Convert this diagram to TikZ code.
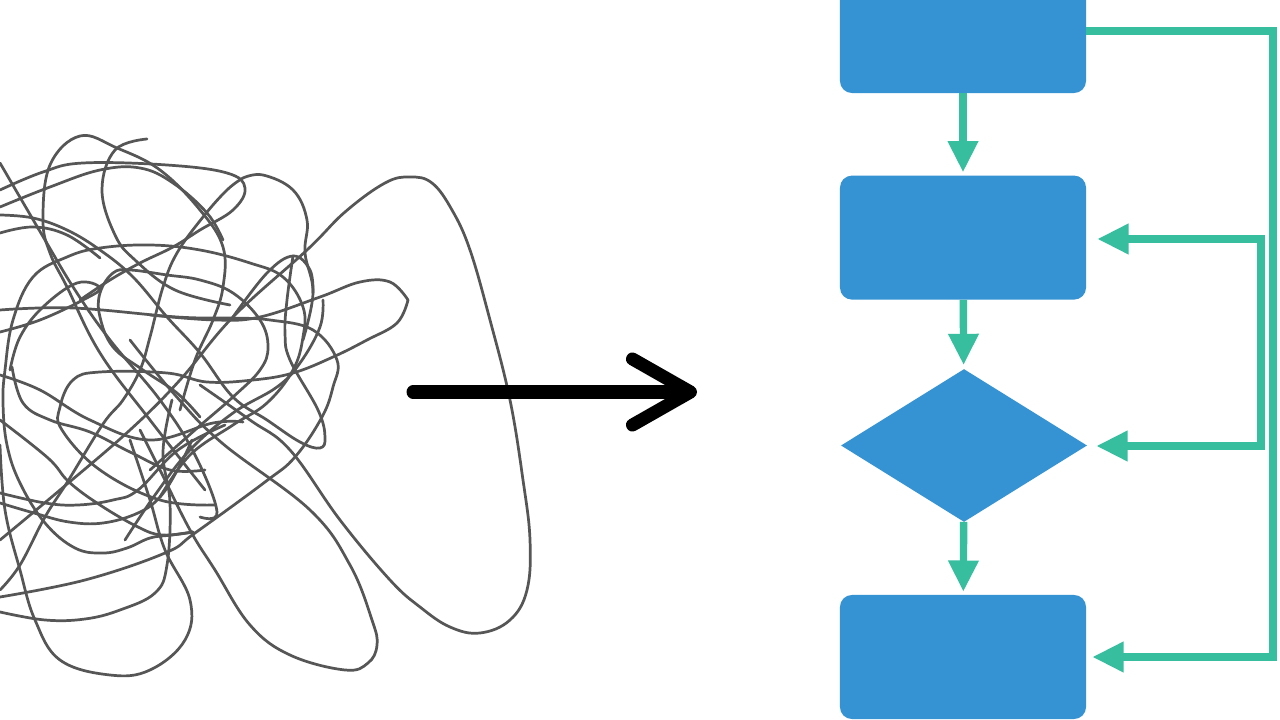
\documentclass[tikz,border=0pt]{standalone}
\usepackage{tikz}
\usetikzlibrary{shapes.geometric, arrows.meta, positioning}
\definecolor{boxblue}{HTML}{3593D3}
\definecolor{flowgreen}{HTML}{37BE9F}
\definecolor{scribblegray}{HTML}{565656}
\tikzset{
    box/.style={draw=none, fill=boxblue, rounded corners=0.3cm, minimum width=6.15cm, minimum height=3.1cm, inner sep=0pt},
    decision/.style={draw=none, fill=boxblue, diamond, minimum width=6.15cm, minimum height=3.82cm, inner sep=0pt},
    flow/.style={draw=flowgreen, line width=0.185cm, -{Triangle[length=0.78cm, width=0.72cm]}},
    scribble/.style={draw=scribblegray, line width=0.068cm, line cap=round, line join=round},
}
\begin{document}
\begin{tikzpicture}[x=0.025cm, y=-0.025cm]
    \clip (0,0) rectangle (1280,720);
    \fill[white] (0,0) rectangle (1280,720);

    % the tangle
    \draw[scribble] plot[smooth, tension=0.65] coordinates {(0,597) (85,580) (165,553) (195,533) (265,482) (295,457) (322,417) (333,387) (337,360) (313,330) (270,320) (230,318) (177,317) (73,308) (0,310)};
    \draw[scribble] plot[smooth, tension=0.65] coordinates {(0,540) (60,490) (130,430) (180,380) (233,317) (307,250) (345,212) (385,183) (410,177) (432,183) (452,210) (470,250) (490,320) (510,400) (523,480) (530,540) (527,590) (510,620) (480,633) (450,627) (420,607) (390,580) (340,520) (290,450) (250,420) (200,385)};
    \draw[scribble] plot[smooth, tension=0.65] coordinates {(130,340) (175,395) (222,443) (310,510) (350,565) (372,620) (377,645) (368,663) (345,670) (290,655) (250,625) (215,570) (190,530) (160,470) (140,430)};
    \draw[scribble] plot[smooth, tension=0.65] coordinates {(0,445) (5,510) (20,570) (35,620) (60,660) (110,675) (150,670) (185,640) (190,600) (165,550) (150,500) (130,440)};
    \draw[scribble] plot[smooth, tension=0.65] coordinates {(0,612) (45,620) (85,619) (120,610) (155,593) (167,565) (170,503) (163,452) (172,400)};
    \draw[scribble] plot[smooth, tension=0.65] coordinates {(147,139) (115,150) (102,190) (115,235) (135,260) (175,290) (230,305)};
    \draw[scribble] plot[smooth, tension=0.65] coordinates {(0,163) (45,240) (75,290) (110,340) (160,400) (195,455) (217,512) (200,517)};
    \draw[scribble] plot[smooth, tension=0.65] coordinates {(205,490) (150,420) (100,353) (67,287) (50,253) (43,220) (50,165) (80,136) (117,148) (160,170) (200,210) (223,247) (223,287) (213,320) (195,360) (180,410)};
    \draw[scribble] plot[smooth, tension=0.65] coordinates {(0,190) (43,172) (83,163) (167,165) (227,173) (245,188) (233,210) (200,230) (173,247) (140,263) (110,280) (80,300)};
    \draw[scribble] plot[smooth, tension=0.65] coordinates {(0,207) (50,187) (100,170) (140,168) (173,183) (207,213) (223,240)};
    \draw[scribble] plot[smooth, tension=0.65] coordinates {(243,178) (263,175) (293,190) (307,220) (305,253) (313,293) (303,340)};
    \draw[scribble] plot[smooth, tension=0.65] coordinates {(243,178) (227,190) (203,217) (177,253) (163,287) (150,337) (140,370) (123,400) (103,424) (68,481) (45,517) (20,565) (0,590)};
    \draw[scribble] plot[smooth, tension=0.65] coordinates {(0,215) (33,218) (67,230) (100,250) (133,277) (167,317) (200,353) (233,397) (267,420) (300,442) (320,448) (325,437) (318,410) (290,360) (285,333) (287,300) (293,256)};
    \draw[scribble] plot[smooth, tension=0.65] coordinates {(408,300) (390,282) (360,282) (320,297) (260,317) (215,320) (150,315)};
    \draw[scribble] plot[smooth, tension=0.65] coordinates {(408,300) (397,323) (367,340) (333,357) (293,373) (253,380) (207,382) (167,373) (100,372) (73,380) (60,407) (62,430) (100,470) (160,500) (215,505)};
    \draw[scribble] plot[smooth, tension=0.65] coordinates {(0,233) (33,227) (67,235) (100,258)};
    \draw[scribble] plot[smooth, tension=0.65] coordinates {(193,532) (172,535) (150,538) (127,548) (103,553) (75,548) (45,523) (20,483) (7,445) (3,403) (5,370) (13,320) (33,277) (67,257) (100,248) (150,245) (200,250) (250,263) (283,277) (303,307) (303,337) (293,370) (267,403) (233,425) (190,455) (160,497)};
    \draw[scribble] plot[smooth, tension=0.65] coordinates {(10,370) (20,337) (43,307) (77,283) (100,288) (83,300) (40,320) (0,332)};
    \draw[scribble] plot[smooth, tension=0.65] coordinates {(12,367) (23,403) (50,420) (90,432) (130,452) (170,470) (205,470)};
    \draw[scribble] plot[smooth, tension=0.65] coordinates {(200,417) (177,393) (143,370) (113,347) (100,317) (100,293) (113,273) (130,270) (167,275) (200,280) (233,293) (260,320) (268,347) (260,370) (233,397) (195,430) (150,470)};
    \draw[scribble] plot[smooth, tension=0.65] coordinates {(233,317) (267,273) (293,256) (310,270) (313,293)};
    \draw[scribble] plot[smooth, tension=0.65] coordinates {(323,300) (320,327) (300,363) (277,387) (233,413) (190,450) (155,495) (125,540)};
    \draw[scribble] plot[smooth, tension=0.65] coordinates {(243,422) (213,423) (150,440) (90,420) (40,390) (0,375)};
    \draw[scribble] plot[smooth, tension=0.65] coordinates {(0,493) (45,503) (78,505) (113,500) (138,490) (178,450) (225,425)};
    \draw[scribble] plot[smooth, tension=0.65] coordinates {(0,503) (34,513) (69,522) (103,523) (138,513) (160,497) (178,469) (192,440)};
    \draw[scribble] plot[smooth, tension=0.65] coordinates {(0,420) (48,458) (69,482) (100,505) (138,527) (162,535) (193,532)};

    % black arrow
    \coordinate (messend) at (413,392);
    \coordinate (flowstart) at (697,392);
    \draw[line width=0.325cm, line cap=round, -{Straight Barb[round, length=1.45cm, width=1.65cm]}] (messend) -- (flowstart);

    % flowchart
    \node[box] (start) at (963,31) {};
    \node[box, below=2.05cm of start] (process) {};
    \node[decision] (check) at (964,445.5) {};
    \node[box] (finish) at (963,657) {};

    \draw[flow, shorten >=0.075cm] (start) -- (process);
    \draw[flow, shorten >=0.1cm] (process) -- (check);
    \draw[flow, shorten >=0.075cm] (check) -- (finish);

    \coordinate (outerA) at (1273,31);
    \coordinate (outerB) at (1273,657);
    \coordinate (loopA) at (1261,239);
    \coordinate (loopB) at (1261,446);
    \draw[flow, shorten >=0.15cm] (start.east) -- (outerA) -- (outerB) -- (finish.east);
    \draw[flow, {Triangle[length=0.78cm, width=0.72cm]}-{Triangle[length=0.78cm, width=0.72cm]}, shorten <=0.275cm, shorten >=0.225cm] (process.east |- loopA) -- (loopA) -- (loopB) -- (check.east |- loopB);
\end{tikzpicture}
\end{document}
